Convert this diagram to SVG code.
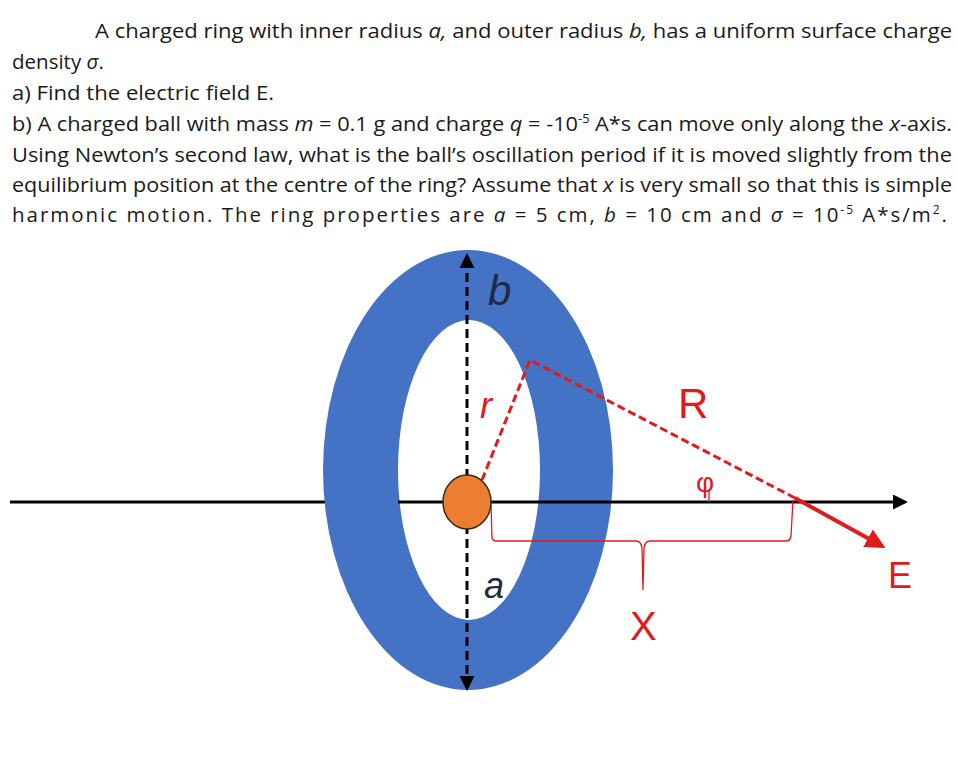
<svg xmlns="http://www.w3.org/2000/svg" width="958" height="769" viewBox="0 0 958 769">
<style>
.t{font-family:"Open Sans","Liberation Sans",sans-serif;font-size:20.5px;fill:#1a1a1a}
.lbl{font-family:"Liberation Sans",sans-serif;fill:#e01b1b}
</style>
<defs>
<marker id="ab" viewBox="0 0 10 10" refX="8" refY="5" markerWidth="5" markerHeight="5" orient="auto-start-reverse"><path d="M0,0L10,5L0,10z" fill="#000"/></marker>
<marker id="ar" viewBox="0 0 10 10" refX="8" refY="5" markerWidth="5" markerHeight="5" orient="auto"><path d="M0,0L10,5L0,10z" fill="#e01b1b"/></marker>
</defs>
<rect width="958" height="769" fill="#fff"/>
<g id="text">
<text class="t" x="95" y="38" textLength="857" lengthAdjust="spacingAndGlyphs">A charged ring with inner radius <tspan font-style="italic">a,</tspan> and outer radius <tspan font-style="italic">b,</tspan> has a uniform surface charge</text>
<text class="t" x="12" y="69">density <tspan font-style="italic">σ</tspan>.</text>
<text class="t" x="12" y="100" textLength="262" lengthAdjust="spacingAndGlyphs">a) Find the electric field E.</text>
<text class="t" x="12" y="131" textLength="940" lengthAdjust="spacingAndGlyphs">b) A charged ball with mass <tspan font-style="italic">m</tspan> = 0.1 g and charge <tspan font-style="italic">q</tspan> = -10<tspan font-size="12" dy="-8">-5</tspan><tspan dy="8"> A*s can move only along the </tspan><tspan font-style="italic">x</tspan>-axis.</text>
<text class="t" x="12" y="162" textLength="940" lengthAdjust="spacingAndGlyphs">Using Newton’s second law, what is the ball’s oscillation period if it is moved slightly from the</text>
<text class="t" x="12" y="192" textLength="940" lengthAdjust="spacingAndGlyphs">equilibrium position at the centre of the ring? Assume that <tspan font-style="italic">x</tspan> is very small so that this is simple</text>
<text class="t" x="12" y="222" textLength="935" lengthAdjust="spacing">harmonic motion. The ring properties are <tspan font-style="italic">a</tspan> = 5 cm, <tspan font-style="italic">b</tspan> = 10 cm and <tspan font-style="italic">σ</tspan> = 10<tspan font-size="12" dy="-8">-5</tspan><tspan dy="8"> A*s/m</tspan><tspan font-size="12" dy="-8">2</tspan><tspan dy="8">.</tspan></text>
</g>
<g id="axis-left"><line x1="10" y1="502" x2="330" y2="502" stroke="#000" stroke-width="3"/></g>
<g id="ring"><path fill="#4472C4" fill-rule="evenodd" d="M323,470a145,220 0 1,0 290,0a145,220 0 1,0 -290,0z M398,470a71,150 0 1,0 142,0a71,150 0 1,0 -142,0z"/></g>
<g id="connectors">
<line x1="398" y1="502" x2="905" y2="502" stroke="#000" stroke-width="3" marker-end="url(#ab)"/>
<line x1="467" y1="688" x2="467" y2="256" stroke="#000" stroke-width="3" stroke-dasharray="9,5" marker-end="url(#ab)" marker-start="url(#ab)"/>
<polyline points="482,480 530,360 795,498" fill="none" stroke="#e01b1b" stroke-width="3" stroke-dasharray="8,4"/>
<line x1="795" y1="498" x2="882" y2="546" stroke="#e01b1b" stroke-width="4" marker-end="url(#ar)"/>
<path d="M491,505 L492,538 Q493,541 496,541 L636,541 Q641,541 642,548 L643,590 L644,548 Q645,541 650,541 L786,541 Q790,541 791,536 L793,500" fill="none" stroke="#e01b1b" stroke-width="1.3"/>
<line x1="709" y1="491" x2="709" y2="502" stroke="#e01b1b" stroke-width="1.3"/>
</g>
<g id="ball"><ellipse cx="467" cy="502" rx="24" ry="27" fill="#ED7D31" stroke="#3a2a1a" stroke-width="1.5"/></g>
<g id="labels">
<text x="488" y="305" font-family="Liberation Sans,sans-serif" font-style="italic" font-size="42" fill="#1f2a44">b</text>
<text x="480" y="418" class="lbl" font-style="italic" font-size="36">r</text>
<text x="678" y="418" class="lbl" font-size="42">R</text>
<text x="696" y="492" class="lbl" font-size="28">φ</text>
<text x="484" y="598" font-family="Liberation Sans,sans-serif" font-style="italic" font-size="36" fill="#1f2a44">a</text>
<text x="630" y="640" class="lbl" font-size="40">X</text>
<text x="888" y="588" class="lbl" font-size="36">E</text>
</g>
</svg>
